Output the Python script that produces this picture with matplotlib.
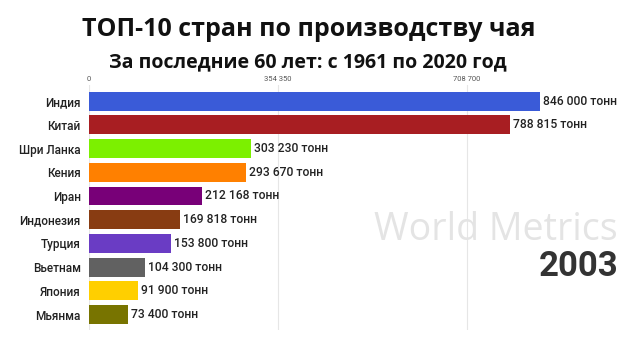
import matplotlib
matplotlib.use("Agg")
import matplotlib.pyplot as plt

countries = ["Индия", "Китай", "Шри Ланка", "Кения", "Иран",
             "Индонезия", "Турция", "Вьетнам", "Япония", "Мьянма"]
values = [846000, 788815, 303230, 293670, 212168,
          169818, 153800, 104300, 91900, 73400]
colors = ["#3a5bd8", "#a81e22", "#7cf000", "#ff8000", "#780078",
          "#883c12", "#6a3cc4", "#616161", "#ffcf00", "#787400"]
ticks = [0, 354350, 708700]
tick_labels = ["0", "354 350", "708 700"]
year = "2003"


def fmt(v):
    return f"{v:,}".replace(",", " ") + " тонн"


plt.rcParams["font.family"] = ["Roboto", "DejaVu Sans"]

fig = plt.figure(figsize=(6.4, 3.6), dpi=100)
ax = fig.add_axes([89 / 640, 1 - 330 / 360, 540 / 640, 245 / 360])

y = list(range(len(countries)))
ax.barh(y, values, color=colors, height=0.8, zorder=2)
ax.set_ylim(len(countries) - 0.35, -0.68)
ax.set_xlim(0, 354350 / 189 * 540)

for yi, v in zip(y, values):
    ax.text(v + 6000, yi, fmt(v), va="center", ha="left", fontsize=8.7,
            fontweight="medium", color="#222222")

ax.set_yticks(y)
ax.set_yticklabels(countries, fontsize=8.5, fontweight="medium", color="#222222")
ax.tick_params(axis="y", length=0, pad=6)
ax.set_xticks(ticks)
ax.set_xticklabels(tick_labels, fontsize=5.5, color="#555555")
ax.xaxis.tick_top()
ax.tick_params(axis="x", length=0, pad=2)
ax.grid(axis="x", color="#e6e6e6", linewidth=0.8, zorder=0)
for s in ax.spines.values():
    s.set_visible(False)

fig.text(309 / 640, 1 - 30 / 360, "ТОП-10 стран по производству чая",
         ha="center", va="center", fontsize=18, fontweight="bold",
         family=["Open Sans", "DejaVu Sans"], color="#111111")
fig.text(308 / 640, 1 - 62 / 360, "За последние 60 лет: с 1961 по 2020 год",
         ha="center", va="center", fontsize=14, fontweight="bold",
         family=["Open Sans", "DejaVu Sans"], color="#111111")
fig.text(618 / 640, 1 - 230 / 360, "World Metrics", ha="right", va="center",
         fontsize=27, color="#e4e4e4", family=["Open Sans", "DejaVu Sans"])
fig.text(618 / 640, 1 - 266 / 360, year, ha="right", va="center",
         fontsize=25, fontweight="bold", color="#333333")

fig.savefig("out.png", dpi=100)
